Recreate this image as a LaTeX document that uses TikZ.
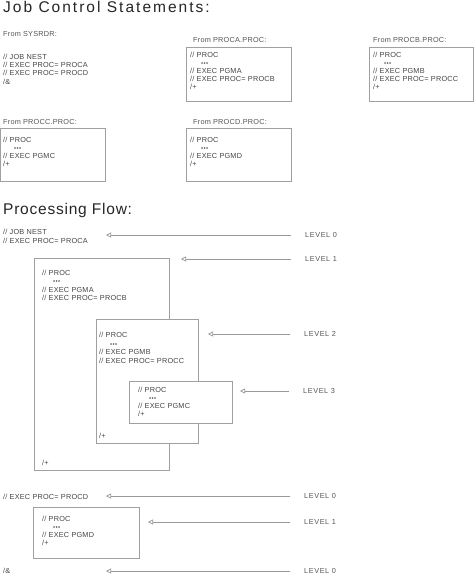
\documentclass[tikz,border=0pt]{standalone}
\usepackage{fontspec}
\setmainfont{Liberation Sans}
\newfontfamily\titleAfont[LetterSpace=13]{Liberation Sans}
\newfontfamily\titleBfont[LetterSpace=5]{Liberation Sans}
\newfontfamily\bodyfont[LetterSpace=3]{Liberation Sans}
\newfontfamily\levfont[LetterSpace=8]{Liberation Sans}
\usetikzlibrary{arrows.meta}
\definecolor{txtc}{HTML}{444444}
\definecolor{fromc}{HTML}{555555}
\definecolor{levc}{HTML}{555555}
\definecolor{boxc}{HTML}{A0A0A0}
\definecolor{arrc}{HTML}{999999}
\definecolor{titc}{HTML}{262626}
\newcommand\dts{\hspace*{11pt}{\fontsize{6}{6}\selectfont •\kern0.4pt•\kern0.4pt•}}
\tikzset{
  tl/.style={anchor=base west, inner sep=0pt, text=txtc, font=\bodyfont\fontsize{7.3}{8}\selectfont},
  fromlbl/.style={anchor=base west, inner sep=0pt, text=fromc, font=\bodyfont\fontsize{7.3}{8}\selectfont},
  levlbl/.style={anchor=west, inner sep=0pt, text=levc, font=\levfont\fontsize{7.3}{8}\selectfont},
  jclbox/.style={draw=boxc, line width=0.8pt, fill=white, anchor=north west, inner sep=0pt},
  arr/.style={draw=arrc, line width=0.7pt, -{Triangle[open,length=5pt,width=5pt]}, shorten <=14pt},
  ttl/.style={anchor=base west, inner sep=0pt, text=titc}
}
\newcommand\jclblock[5]{%
  \foreach \t [count=\i] in {#5} {\node[tl] (#1-\i) at (#2,{#3+2.6+(\i-1)*#4}) {\t};}}
\begin{document}
\begin{tikzpicture}[x=1pt,y=-1pt]
\useasboundingbox[fill=white] (0,0) rectangle (474,575);

% ---------- Job Control Statements ----------
\node[ttl, font=\titleAfont\fontsize{15.5}{16}\selectfont] (title1) at (3,13) {Job Control Statements:};

\node[fromlbl] (fSYS) at (3,36.5) {From SYSRDR:};
\jclblock{sys}{3}{57}{8.2}{// JOB NEST, // EXEC PROC= PROCA, // EXEC PROC= PROCD, /\&}

\node[fromlbl] (fA) at (193,42.5) {From PROCA.PROC:};
\node[jclbox, minimum width=105pt, minimum height=54pt] (boxA) at (186,47) {};
\jclblock{pa}{190}{55}{8}{// PROC, \dts, // EXEC PGMA, // EXEC PROC= PROCB, /+}

\node[fromlbl] (fB) at (373,42.5) {From PROCB.PROC:};
\node[jclbox, minimum width=104pt, minimum height=54pt] (boxB) at (369,47) {};
\jclblock{pb}{373}{55}{8}{// PROC, \dts, // EXEC PGMB, // EXEC PROC= PROCC, /+}

\node[fromlbl] (fC) at (3,124.5) {From PROCC.PROC:};
\node[jclbox, minimum width=105pt, minimum height=53pt] (boxC) at (0.4,128) {};
\jclblock{pc}{3}{140}{8}{// PROC, \dts, // EXEC PGMC, /+}

\node[fromlbl] (fD) at (193,124.5) {From PROCD.PROC:};
\node[jclbox, minimum width=105pt, minimum height=53pt] (boxD) at (186,128) {};
\jclblock{pd}{190}{140}{8}{// PROC, \dts, // EXEC PGMD, /+}

% ---------- Processing Flow ----------
\node[ttl, font=\titleBfont\fontsize{15.5}{16}\selectfont] (title2) at (3,214) {Processing Flow:};

\jclblock{f0}{3}{232}{8.6}{// JOB NEST, // EXEC PROC= PROCA}
\node[levlbl] (lv0a) at (305,235) {LEVEL 0};
\coordinate (t0a) at (106,235);
\draw[arr] (lv0a.west) -- (t0a);

% level 1 (PROCA)
\node[jclbox, minimum width=135pt, minimum height=212pt] (l1) at (34,258) {};
\jclblock{l1t}{42}{273}{8.3}{// PROC, \dts, // EXEC PGMA, // EXEC PROC= PROCB}
\node[tl] (l1end) at (42,465.6) {/+};
\node[levlbl] (lv1a) at (305,259) {LEVEL 1};
\coordinate (t1a) at (181,259);
\draw[arr] (lv1a.west) -- (t1a);

% level 2 (PROCB)
\node[jclbox, minimum width=102pt, minimum height=124pt] (l2) at (96,319) {};
\jclblock{l2t}{99}{335}{8.5}{// PROC, \dts, // EXEC PGMB, // EXEC PROC= PROCC}
\node[tl] (l2end) at (99,438.6) {/+};
\node[levlbl] (lv2) at (304,334) {LEVEL 2};
\coordinate (t2) at (208,334);
\draw[arr] (lv2.west) -- (t2);

% level 3 (PROCC)
\node[jclbox, minimum width=103pt, minimum height=42pt] (l3) at (129,381) {};
\jclblock{l3t}{138}{390}{8}{// PROC, \dts, // EXEC PGMC, /+}
\node[levlbl] (lv3) at (303,391) {LEVEL 3};
\coordinate (t3) at (240,391);
\draw[arr] (lv3.west) -- (t3);

% PROCD
\node[tl] (f0b) at (3,499.1) {// EXEC PROC= PROCD};
\node[levlbl] (lv0b) at (304,496) {LEVEL 0};
\coordinate (t0b) at (106,496);
\draw[arr] (lv0b.west) -- (t0b);

\node[jclbox, minimum width=106pt, minimum height=51pt] (l1b) at (33,507) {};
\jclblock{l1bt}{42}{518.5}{8.2}{// PROC, \dts, // EXEC PGMD, /+}
\node[levlbl] (lv1b) at (304,522) {LEVEL 1};
\coordinate (t1b) at (148,522);
\draw[arr] (lv1b.west) -- (t1b);

\node[tl] (fend) at (3,573.6) {/\&};
\node[levlbl] (lv0c) at (304,571) {LEVEL 0};
\coordinate (t0c) at (106,571);
\draw[arr] (lv0c.west) -- (t0c);
\end{tikzpicture}
\end{document}
